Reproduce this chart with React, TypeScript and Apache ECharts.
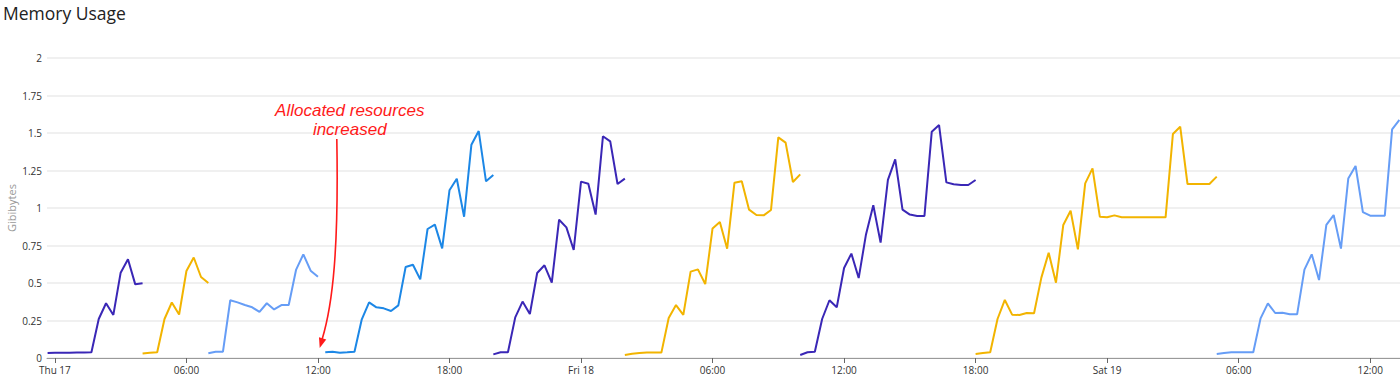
import React, { useEffect, useRef } from "react";
import * as echarts from "echarts";

// ---- Data (Gibibytes, one point every 20 minutes; x in hours from Thu 17 00:00) ----
const tickHours = [0, 6, 12, 18, 24, 30, 36, 42, 48, 54, 60];
const tickLabels = ["Thu 17", "06:00", "12:00", "18:00", "Fri 18", "06:00", "12:00", "18:00", "Sat 19", "06:00", "12:00"];
const stepMinutes = 20;

// each instance: start minute (relative to Thu 17 00:00) and its values
const seg1Start = -20;
const seg1 = [0.033, 0.035, 0.035, 0.035, 0.036, 0.037, 0.038, 0.26, 0.365, 0.287, 0.569, 0.658, 0.491, 0.498];
const seg2Start = 240;
const seg2 = [0.03, 0.035, 0.038, 0.26, 0.37, 0.29, 0.58, 0.67, 0.54, 0.5];
const seg3Start = 420;
const seg3 = [0.031, 0.042, 0.042, 0.385, 0.371, 0.353, 0.338, 0.307, 0.365, 0.324, 0.353, 0.353, 0.587, 0.691, 0.582, 0.542];
const seg4Start = 740;
const seg4 = [0.038, 0.042, 0.035, 0.038, 0.042, 0.258, 0.371, 0.338, 0.331, 0.313, 0.351, 0.607, 0.622, 0.524, 0.86, 0.889, 0.731, 1.118, 1.195, 0.942, 1.422, 1.513, 1.178, 1.22];
const seg5Start = 1200;
const seg5 = [0.024, 0.038, 0.038, 0.271, 0.376, 0.293, 0.567, 0.618, 0.502, 0.922, 0.871, 0.72, 1.176, 1.162, 0.956, 1.478, 1.444, 1.16, 1.196];
const seg6Start = 1560;
const seg6 = [0.02, 0.028, 0.033, 0.036, 0.036, 0.036, 0.267, 0.353, 0.287, 0.576, 0.591, 0.493, 0.864, 0.907, 0.729, 1.169, 1.178, 0.989, 0.953, 0.951, 0.987, 1.471, 1.436, 1.173, 1.224];
const seg7Start = 2040;
const seg7 = [0.02, 0.038, 0.042, 0.26, 0.385, 0.338, 0.6, 0.696, 0.533, 0.824, 1.018, 0.769, 1.187, 1.324, 0.989, 0.956, 0.947, 0.947, 1.509, 1.553, 1.171, 1.158, 1.153, 1.153, 1.187];
const seg8Start = 2520;
const seg8 = [0.027, 0.033, 0.038, 0.26, 0.387, 0.289, 0.287, 0.3, 0.298, 0.536, 0.702, 0.502, 0.887, 0.982, 0.724, 1.164, 1.264, 0.942, 0.938, 0.951, 0.938, 0.938, 0.938, 0.938, 0.938, 0.938, 0.938, 1.493, 1.542, 1.16, 1.16, 1.16, 1.16, 1.209];
const seg9Start = 3180;
const seg9 = [0.027, 0.033, 0.038, 0.038, 0.038, 0.038, 0.264, 0.364, 0.3, 0.302, 0.291, 0.291, 0.589, 0.691, 0.52, 0.887, 0.953, 0.729, 1.196, 1.28, 0.973, 0.949, 0.949, 0.949, 1.524, 1.587];

const INDIGO = "#3a27b6";
const YELLOW = "#f2b400";
const LIGHTBLUE = "#669df6";
const BLUE = "#1c87e6";

const segments = [
  { start: seg1Start, values: seg1, color: INDIGO },
  { start: seg2Start, values: seg2, color: YELLOW },
  { start: seg3Start, values: seg3, color: LIGHTBLUE },
  { start: seg4Start, values: seg4, color: BLUE },
  { start: seg5Start, values: seg5, color: INDIGO },
  { start: seg6Start, values: seg6, color: YELLOW },
  { start: seg7Start, values: seg7, color: INDIGO },
  { start: seg8Start, values: seg8, color: YELLOW },
  { start: seg9Start, values: seg9, color: LIGHTBLUE },
];

// annotation anchors in data space [hours, GiB]
const annotationText = ["Allocated resources", "increased"];
const annotTextAnchor = [13.45, 1.653];
const annotTail = [12.86, 1.46];
const annotTip = [12.08, 0.067];

export default function App() {
  const ref = useRef<HTMLDivElement>(null);

  useEffect(() => {
    document.body.style.margin = "0";
    const chart = echarts.init(ref.current!, undefined, { renderer: "svg" });
    const series = segments.map((s, k) => ({
      name: "instance-" + (k + 1),
      type: "line",
      showSymbol: false,
      symbol: "none",
      data: s.values.map((v, i) => [(s.start + i * stepMinutes) / 60, v]),
      lineStyle: { width: 2, color: s.color },
      itemStyle: { color: s.color },
      z: 2,
    }));

    chart.setOption({
      animation: false,
      textStyle: { fontFamily: "Open Sans" },
      title: {
        text: "Memory Usage",
        left: 3,
        top: 4,
        padding: 0,
        textStyle: { fontSize: 17.5, fontWeight: "normal", color: "#222", fontFamily: "Open Sans" },
      },
      grid: { left: 47, right: 0, top: 58, bottom: 22, containLabel: false, outerBoundsMode: "none" },
      xAxis: {
        type: "value",
        min: -0.36,
        max: 61.36,
        axisLine: { show: true, lineStyle: { color: "#9a9a9a", width: 1 } },
        axisTick: { show: true, customValues: tickHours, length: 5, lineStyle: { color: "#666" } },
        axisLabel: {
          customValues: tickHours,
          formatter: (v: number) => tickLabels[Math.round(v / 6)] ?? "",
          color: "#333",
          fontSize: 10,
          lineHeight: 11,
          margin: 6,
        },
        splitLine: { show: false },
      },
      yAxis: {
        type: "value",
        min: 0,
        max: 2,
        interval: 0.25,
        name: "Gibibytes",
        nameLocation: "middle",
        nameGap: 30,
        nameMoveOverlap: false,
        nameTextStyle: { color: "#9a9a9a", fontSize: 11 },
        axisLine: { show: false },
        axisTick: { show: false },
        axisLabel: { color: "#333", fontSize: 10, lineHeight: 10, margin: 5 },
        splitLine: { lineStyle: { color: "#ebebeb", width: 1.5 } },
      },
      series,
    });

    const p = (d: number[]) => chart.convertToPixel({ gridIndex: 0 }, d) as number[];
    const t = p(annotTextAnchor);
    const tail = p(annotTail);
    const tip = p(annotTip);
    const end = [tip[0] + 2.5, tip[1] - 9];
    const cp1 = [tail[0] + 2, tail[1] + 110];
    const cp2 = [tail[0] - 4, tail[1] + 165];
    let dx = end[0] - cp2[0];
    let dy = end[1] - cp2[1];
    const len = Math.hypot(dx, dy);
    dx /= len;
    dy /= len;
    const headLen = 10;
    const headHalf = 3.8;
    const bc = [tip[0] - dx * headLen, tip[1] - dy * headLen];
    const red = "#ff1a1a";

    chart.setOption({
      graphic: [
        {
          type: "text",
          x: t[0],
          y: t[1],
          style: {
            text: annotationText[0],
            fill: red,
            font: "italic 17px 'Liberation Sans', Arial, sans-serif",
            textAlign: "center",
            textVerticalAlign: "middle",
          },
          z: 10,
        },
        {
          type: "text",
          x: t[0],
          y: t[1] + 19.5,
          style: {
            text: annotationText[1],
            fill: red,
            font: "italic 17px 'Liberation Sans', Arial, sans-serif",
            textAlign: "center",
            textVerticalAlign: "middle",
          },
          z: 10,
        },
        {
          type: "bezierCurve",
          shape: {
            x1: tail[0], y1: tail[1],
            cpx1: cp1[0], cpy1: cp1[1],
            cpx2: cp2[0], cpy2: cp2[1],
            x2: end[0], y2: end[1],
          },
          style: { stroke: red, lineWidth: 1.6, fill: null },
          z: 10,
        },
        {
          type: "polygon",
          shape: {
            points: [
              [tip[0], tip[1]],
              [bc[0] + dy * headHalf, bc[1] - dx * headHalf],
              [bc[0] - dy * headHalf, bc[1] + dx * headHalf],
            ],
          },
          style: { fill: red },
          z: 10,
        },
      ],
    });

    return () => chart.dispose();
  }, []);

  return <div ref={ref} style={{ position: "absolute", left: 0, top: 0, width: 1400, height: 380 }} />;
}
